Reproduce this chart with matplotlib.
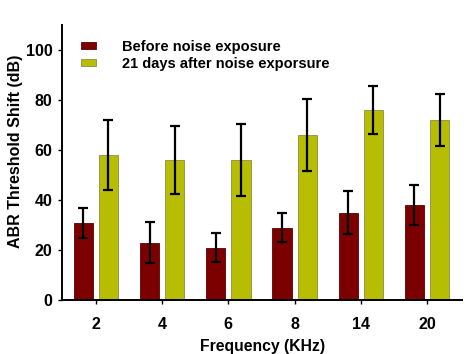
import numpy as np
import matplotlib
matplotlib.use('Agg')
import matplotlib.pyplot as plt

# Data
freqs = ['2', '4', '6', '8', '14', '20']
before = [31, 23, 21, 29, 35, 38]
before_err = [6, 8.3, 5.7, 5.7, 8.6, 8]
after = [58, 56, 56, 66, 76, 72]
after_err = [14, 13.7, 14.5, 14.4, 9.7, 10.4]

plt.rcParams['font.family'] = ['Liberation Sans', 'DejaVu Sans']
plt.rcParams['font.weight'] = 'bold'

fig = plt.figure(figsize=(4.74, 3.54), dpi=100)
ax = fig.add_axes([0.131, 0.1525, 0.844, 0.7765])

x = np.arange(len(freqs))
w = 0.29
off = 0.19
err_kw = dict(ecolor='black', elinewidth=1.6, capsize=3.6, capthick=1.6)

ax.bar(x - off, before, w, yerr=before_err, color='#7d0000', edgecolor='#5a0000',
       linewidth=0.6, error_kw=err_kw, label='Before noise exposure')
ax.bar(x + off, after, w, yerr=after_err, color='#b7bd00', edgecolor='#8c8c4a',
       linewidth=0.6, error_kw=err_kw, label='21 days after noise exporsure')

ax.set_xlim(-0.51, 5.53)
ax.set_ylim(0, 110)
ax.set_xticks(x)
ax.set_xticklabels(freqs)
ax.set_yticks([0, 20, 40, 60, 80, 100])

ax.spines['top'].set_visible(False)
ax.spines['right'].set_visible(False)
ax.spines['left'].set_linewidth(1.4)
ax.spines['bottom'].set_linewidth(1.4)
ax.tick_params(axis='both', labelsize=11.5, length=3, width=1)
ax.tick_params(axis='x', pad=9)
ax.tick_params(axis='y', pad=4)

ax.set_xlabel('Frequency (KHz)', fontsize=11.3, fontweight='bold')
ax.set_ylabel('ABR Threshold Shift (dB)', fontsize=11.5, fontweight='bold')
ax.xaxis.set_label_coords(0.5, -0.142)
ax.yaxis.set_label_coords(-0.0975, 0.54)

fig.legend(loc='upper left', bbox_to_anchor=(80.7 / 474, 1 - 40 / 354),
           frameon=False, fontsize=10.5, borderpad=0, borderaxespad=0,
           handlelength=1.05, handleheight=0.35, handletextpad=1.75,
           labelspacing=0.2)

fig.savefig('out.png', dpi=100)
